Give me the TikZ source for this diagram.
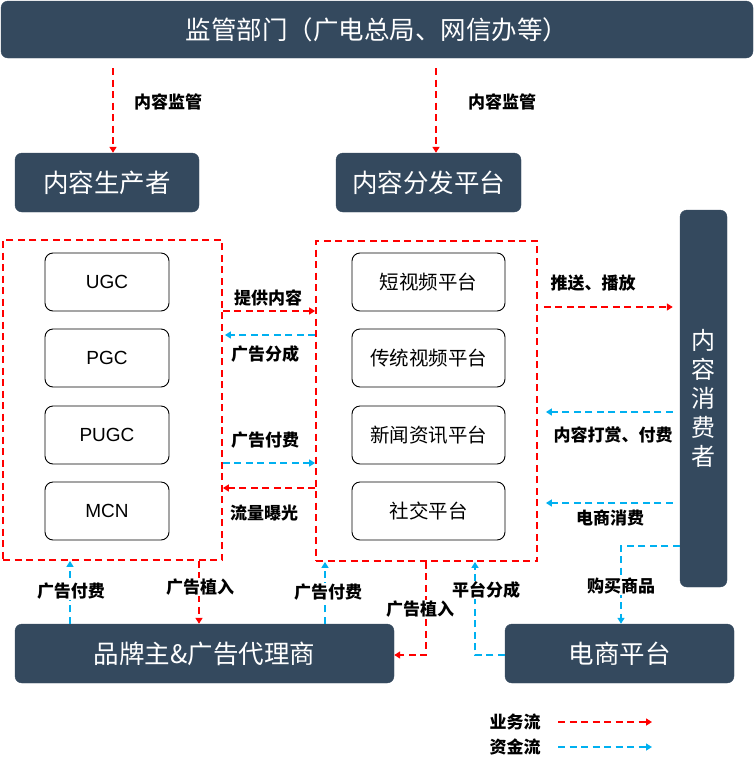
\documentclass[tikz,border=0pt]{standalone}
\usepackage{fontspec}
\setmainfont{Noto Sans CJK SC}
\newfontfamily\latinfont{Liberation Sans}
\usetikzlibrary{arrows.meta}
\definecolor{boxD}{HTML}{34495E}
\definecolor{flowR}{HTML}{FF0000}
\definecolor{flowB}{HTML}{00B0F0}

\begin{document}
\begin{tikzpicture}[x=1pt, y=-1pt, >={Triangle[length=6pt,width=7pt]},
  dark/.style={fill=boxD, draw=boxD, rounded corners=7pt, text=white, inner sep=0pt,
    font=\fontsize{25.5}{30}\selectfont},
  sub/.style={draw, rounded corners=8pt, line width=0.9pt, minimum height=58pt, inner sep=0pt,
    font=\fontsize{19.5}{22}\selectfont},
  grp/.style={draw=flowR, line width=1.8pt, dash pattern=on 7pt off 4.5pt, inner sep=0pt},
  biz/.style={->, draw=flowR, line width=1.8pt, dash pattern=on 7pt off 4.5pt},
  cash/.style={->, draw=flowB, line width=1.8pt, dash pattern=on 7pt off 4.5pt},
  lbl/.style={inner sep=1pt, font=\fontsize{17}{20}\selectfont\bfseries}]
\useasboundingbox (0,0) rectangle (755,764);
% 监管部门与各方
\node[dark, minimum width=752pt, minimum height=57pt] (reg) at (377,29.5) {监管部门（广电总局、网信办等）};
\node[dark, minimum width=184pt, minimum height=59pt] (prod) at (107,182.5) {内容生产者};
\node[dark, minimum width=185pt, minimum height=59pt] (dist) at (428.5,182.5) {内容分发平台};
\node[dark, minimum width=47pt, minimum height=377pt, align=center,
  font=\fontsize{24}{29}\selectfont] (cons) at (703.5,398.5) {内\\容\\消\\费\\者};
\node[dark, minimum width=379pt, minimum height=59pt] (brand) at (204.5,653.5) {品牌主\&广告代理商};
\node[dark, minimum width=229pt, minimum height=59pt] (ecom) at (619.5,653.5) {电商平台};
% 两个虚线分组
\node[grp, minimum width=219pt, minimum height=320pt] (grpL) at (112.5,400) {};
\node[grp, minimum width=221pt, minimum height=320pt] (grpR) at (426.5,401) {};
\foreach \nm/\tx/\yy in {ugc/UGC/282, pgc/PGC/358, pugc/PUGC/435, mcn/MCN/511}
  \node[sub, minimum width=124pt, font=\fontsize{19}{22}\latinfont] (\nm) at (107,\yy) {\tx};
\foreach \nm/\tx/\yy in {svp/短视频平台/282, tvp/传统视频平台/358, news/新闻资讯平台/435, soc/社交平台/511}
  \node[sub, minimum width=153pt] (\nm) at (428.5,\yy) {\tx};
% 内容监管
\coordinate (sA) at (113,68);
\coordinate (sB) at (436,68);
\draw[biz] (sA) -- (sA |- prod.north);
\draw[biz] (sB) -- (sB |- dist.north);
\node[lbl] (tA) at (168,102) {内容监管};
\node[lbl] (tB) at (502,102) {内容监管};
% 生产者与分发平台之间
\coordinate (h1) at (0,311);
\coordinate (h2) at (0,335);
\coordinate (h3) at (0,463);
\coordinate (h4) at (0,488);
\draw[biz] (grpL.east |- h1) -- (grpR.west |- h1);
\draw[cash, shorten >=2pt] (grpR.west |- h2) -- (grpL.east |- h2);
\draw[cash] (grpL.east |- h3) -- (grpR.west |- h3);
\draw[biz] (grpR.west |- h4) -- (grpL.east |- h4);
\node[lbl] (t1) at (268,298) {提供内容};
\node[lbl] (t2) at (265,354) {广告分成};
\node[lbl] (t3) at (265,440) {广告付费};
\node[lbl] (t4) at (264,513) {流量曝光};
% 分发平台与消费者之间
\coordinate (h5) at (0,307);
\coordinate (h6) at (0,412);
\coordinate (h7) at (0,503);
\coordinate (h8) at (0,546);
\coordinate (h9) at (0,655);
\coordinate (v6) at (621,0);
\draw[biz, shorten <=6pt, shorten >=7pt] (grpR.east |- h5) -- (cons.west |- h5);
\draw[cash, shorten <=7pt, shorten >=8pt] (cons.west |- h6) -- (grpR.east |- h6);
\draw[cash, shorten <=7pt, shorten >=8pt] (cons.west |- h7) -- (grpR.east |- h7);
\draw[cash] (cons.west |- h8) -- (v6 |- h8) -- (v6 |- ecom.north);
\node[lbl] (t5) at (593,283) {推送、播放};
\node[lbl] (t6) at (613,435) {内容打赏、付费};
\node[lbl] (t7) at (610,518) {电商消费};
\node[lbl, fill=white] (t8) at (621,586) {购买商品};
% 底部：品牌主、电商平台
\coordinate (v1) at (70,0);
\coordinate (v2) at (199,0);
\coordinate (v3) at (325,0);
\coordinate (v4) at (426,0);
\coordinate (v5) at (475,0);
\draw[cash] (v1 |- brand.north) -- (v1 |- grpL.south);
\draw[biz] (v2 |- grpL.south) -- (v2 |- brand.north);
\draw[cash] (v3 |- brand.north) -- (v3 |- grpR.south);
\draw[biz] (v4 |- grpR.south) -- (v4 |- h9) -- (brand.east |- h9);
\draw[cash] (ecom.west |- h9) -- (v5 |- h9) -- (v5 |- grpR.south);
\node[lbl, fill=white] (t9) at (71,591) {广告付费};
\node[lbl, fill=white] (t10) at (200,587) {广告植入};
\node[lbl, fill=white] (t11) at (328,592) {广告付费};
\node[lbl, fill=white] (t12) at (420,609) {广告植入};
\node[lbl, fill=white] (t13) at (486,590) {平台分成};
% 图例
\node[lbl] (lgBiz) at (515,722) {业务流};
\node[lbl] (lgCash) at (515,747) {资金流};
\coordinate (lbS) at (558,722);
\coordinate (lbE) at (652,722);
\coordinate (lcS) at (558,747);
\coordinate (lcE) at (652,747);
\draw[biz] (lbS) -- (lbE);
\draw[cash] (lcS) -- (lcE);
\end{tikzpicture}
\end{document}
